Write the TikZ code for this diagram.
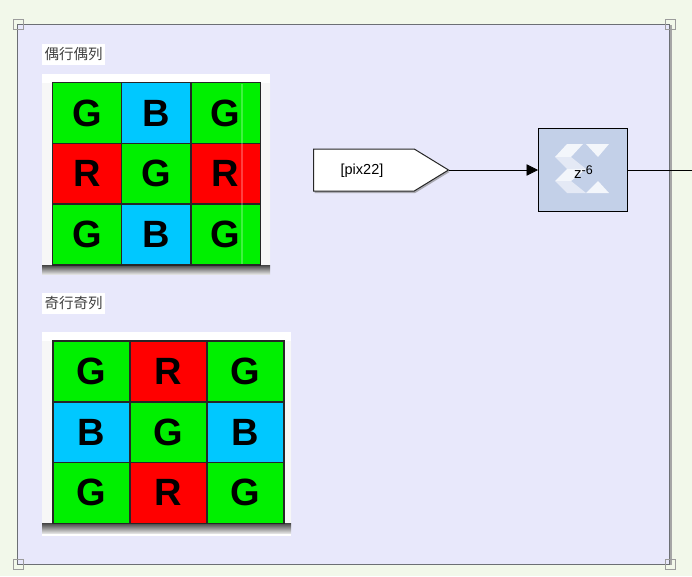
\documentclass[tikz,border=0pt]{standalone}
\usepackage{fontspec}
\setmainfont{Liberation Sans}
\newfontfamily\cjk{Noto Sans CJK SC}
\usetikzlibrary{arrows.meta,shapes.symbols,shadows}
\definecolor{pagebg}{HTML}{F2F8EA}
\definecolor{panelbg}{HTML}{E8E8FB}
\definecolor{framegray}{HTML}{6C6F74}
\definecolor{handlegray}{HTML}{9C9C9C}
\definecolor{delayblue}{HTML}{C3D0E8}
\definecolor{logolight}{HTML}{F3F6FB}
\definecolor{logopale}{HTML}{E4E9F5}
\definecolor{bayerg}{HTML}{00F000}
\definecolor{bayerr}{HTML}{FF0000}
\definecolor{bayerb}{HTML}{00C8FF}
\tikzset{
    handle/.style={rectangle, draw=handlegray, line width=0.9pt, minimum size=10pt, inner sep=0pt},
    caption/.style={rectangle, fill=white, minimum width=63pt, minimum height=21pt, inner sep=0pt, font=\cjk\fontsize{14.5}{15}\selectfont, text=black!75},
    photo/.style={rectangle, fill=white, anchor=north west, inner sep=0pt},
    cell/.style={rectangle, draw=black!85, line width=1.5pt, inner sep=0pt, font=\fontsize{38}{38}\selectfont\bfseries},
    even/.style={cell, minimum width=69.3pt, minimum height=60.7pt},
    odd/.style={cell, minimum width=77pt, minimum height=60.7pt},
    bar/.style={top color=black!70, bottom color=black!12, draw=none},
    wire/.style={line width=0.8pt, black},
}
\begin{document}
\begin{tikzpicture}[x=1pt, y=-1pt]
    \useasboundingbox[fill=pagebg] (0,0) rectangle (692,576);

    % panel
    \draw[line width=2pt, black!35] (670.5,25) -- (670.5,565);
    \draw[fill=panelbg, draw=framegray, line width=1pt] (17.5,24.5) rectangle (669.5,564.5);
    \node[handle] (handleNW) at (18,24) {};
    \node[handle] (handleNE) at (670,24) {};
    \node[handle] (handleSW) at (18,564) {};
    \node[handle] (handleSE) at (670,564) {};

    % even rows
    \node[caption] (evenlabel) at (73.5,54.5) {偶行偶列};
    \node[photo, minimum width=228pt, minimum height=200pt] (evenphoto) at (42,74) {};
    \fill[black!3] (42,83) rectangle (52,266) (261,83) rectangle (270,266);
    \shade[bar] (42,265.5) rectangle (270,274);
    \node[even, fill=bayerg] (e11) at (87,113) {G};
    \node[even, fill=bayerb] (e12) at (156.3,113) {B};
    \node[even, fill=bayerg] (e13) at (225.6,113) {G};
    \node[even, fill=bayerr] (e21) at (87,173.7) {R};
    \node[even, fill=bayerg] (e22) at (156.3,173.7) {G};
    \node[even, fill=bayerr] (e23) at (225.6,173.7) {R};
    \node[even, fill=bayerg] (e31) at (87,234.4) {G};
    \node[even, fill=bayerb] (e32) at (156.3,234.4) {B};
    \node[even, fill=bayerg] (e33) at (225.6,234.4) {G};
    \fill[white, opacity=0.25] (240.5,84) rectangle (243,264);

    % odd rows
    \node[caption] (oddlabel) at (73.5,303.5) {奇行奇列};
    \node[photo, minimum width=249pt, minimum height=204pt] (oddphoto) at (42,332) {};
    \fill[black!3] (42,341) rectangle (53,524) (285,341) rectangle (291,524);
    \shade[bar] (42,523.5) rectangle (291,533);
    \node[odd, fill=bayerg] (o11) at (91.5,371.5) {G};
    \node[odd, fill=bayerr] (o12) at (168.5,371.5) {R};
    \node[odd, fill=bayerg] (o13) at (245.5,371.5) {G};
    \node[odd, fill=bayerb] (o21) at (91.5,432.2) {B};
    \node[odd, fill=bayerg] (o22) at (168.5,432.2) {G};
    \node[odd, fill=bayerb] (o23) at (245.5,432.2) {B};
    \node[odd, fill=bayerg] (o31) at (91.5,492.9) {G};
    \node[odd, fill=bayerr] (o32) at (168.5,492.9) {R};
    \node[odd, fill=bayerg] (o33) at (245.5,492.9) {G};

    % signal path
    \node[signal, signal to=east, signal pointer angle=63, draw=black!85, fill=white, line width=1pt,
        minimum width=135pt, minimum height=42pt, inner sep=0pt, anchor=west,
        drop shadow={shadow xshift=1pt, shadow yshift=-2pt, opacity=0.6}] (pix) at (313,170) {};
    \node[font=\fontsize{14.5}{14.5}\selectfont] (pixtext) at (362,170.5) {[pix22]};
    \node[rectangle, draw=black, fill=delayblue, line width=1pt, minimum width=89pt, minimum height=83pt, inner sep=0pt] (delay) at (583,170) {};
    \fill[logolight] (567,144) -- (583,144) -- (571,157) -- (555,157) -- cycle;
    \fill[logopale] (555,157) -- (571,157) -- (586,169) -- (567,169) -- cycle;
    \fill[logolight] (567,169) -- (586,169) -- (571,181) -- (555,181) -- cycle;
    \fill[logopale] (555,181) -- (571,181) -- (586,193) -- (567,193) -- cycle;
    \fill[logolight] (586,144) -- (609,144) -- (598,157) -- cycle;
    \fill[logolight] (598,181) -- (609,193) -- (586,193) -- cycle;
    \node[font=\fontsize{15}{15}\selectfont, inner sep=0pt] (delaytext) at (583.5,172) {z\raisebox{0.55ex}{\fontsize{12.5}{12.5}\selectfont -6}};
    \coordinate (out) at (692,170);
    \draw[wire, -{Triangle[length=11.5pt, width=11.5pt]}] (pix.east) -- (delay.west);
    \draw[wire] (delay.east) -- (out);
\end{tikzpicture}
\end{document}
